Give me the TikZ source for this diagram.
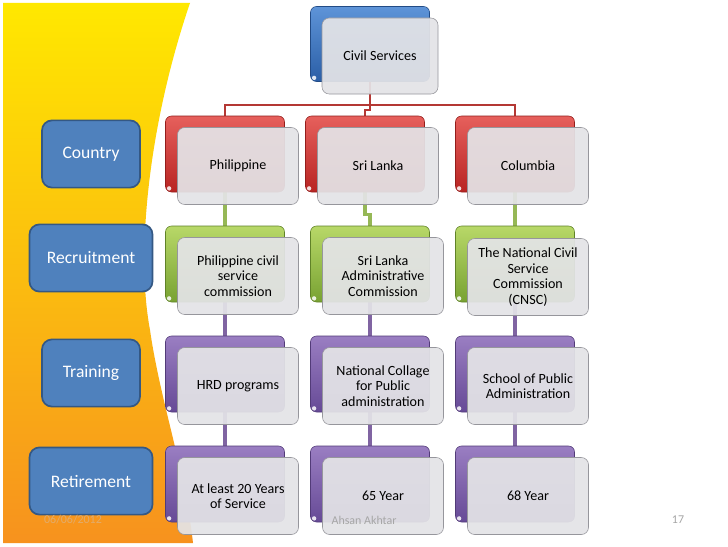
\documentclass[tikz,border=0pt]{standalone}
\usepackage{fontspec}
\setmainfont{Carlito}
\usetikzlibrary{calc}
\pgfdeclarelayer{page}
\pgfdeclarelayer{background}
\pgfsetlayers{page,background,main}

\definecolor{bandtop}{RGB}{255,232,0}
\definecolor{bandmid}{RGB}{254,196,18}
\definecolor{bandbot}{RGB}{247,146,30}
\definecolor{labelblue}{RGB}{79,129,189}
\definecolor{labeledge}{RGB}{52,88,132}
\definecolor{redtop}{RGB}{230,96,92}
\definecolor{redbot}{RGB}{184,36,34}
\definecolor{redline}{RGB}{180,56,52}
\definecolor{greentop}{RGB}{184,216,104}
\definecolor{greenbot}{RGB}{120,162,50}
\definecolor{greenline}{RGB}{150,184,86}
\definecolor{purptop}{RGB}{154,126,194}
\definecolor{purpbot}{RGB}{102,74,150}
\definecolor{purpline}{RGB}{128,100,162}
\definecolor{bluetop}{RGB}{94,148,216}
\definecolor{bluebot}{RGB}{42,94,166}
\definecolor{cardfill}{RGB}{228,228,231}
\definecolor{cardedge}{RGB}{150,150,156}
\definecolor{footgray}{RGB}{166,166,166}
\definecolor{datecol}{RGB}{226,172,108}

\begin{document}
\begin{tikzpicture}[x=0.25mm, y=-0.25mm,
    lbl/.style={draw=labeledge, line width=1.2pt, fill=labelblue, rounded corners=2.5mm,
        text=white, font=\fontsize{12.5}{14}\selectfont, minimum height=16.8mm},
    back/.style={draw=#1bot!80!black, top color=#1top, bottom color=#1bot,
        rounded corners=1.5mm, minimum width=29.75mm, minimum height=19mm,
        path picture={\fill[white, opacity=0.85]
            ($(path picture bounding box.south west)+(0.9mm,0.9mm)$) circle (0.55mm);}},
    card/.style={draw=cardedge, fill=cardfill, fill opacity=0.93, text opacity=1,
        rounded corners=1.8mm, minimum width=30.25mm, minimum height=19.25mm,
        align=center, font=\fontsize{10}{11}\selectfont},
    link/.style={line width=2.4pt},
    foot/.style={font=\fontsize{8.5}{10}\selectfont}]

    % Page and the yellow band on the left
    \useasboundingbox (0,0) rectangle (728,546);
    \begin{pgfonlayer}{page}
        \fill[white] (0,0) rectangle (728,546);
        \shade[top color=bandtop, middle color=bandmid, bottom color=bandbot]
            (3,3) -- (190,3) .. controls (150,120) and (135,250) .. (150,330)
            .. controls (160,400) and (185,470) .. (193,543) -- (3,543) -- cycle;
    \end{pgfonlayer}

    % Row labels
    \node[lbl, minimum width=24.5mm] (country) at (91,154) {Country};
    \node[lbl, minimum width=30.75mm] (recruit) at (91,258) {Recruitment};
    \node[lbl, minimum width=24.5mm] (training) at (91,373) {Training};
    \node[lbl, minimum width=30.75mm] (retire) at (91,481) {Retirement};

    % Root
    \node[back=blue, minimum width=29.75mm, minimum height=18.75mm] (csb) at (370,44) {};
    \node[card, minimum width=29mm, minimum height=19mm] (cs) at (380,56) {Civil Services};

    % Country
    \node[back=red] (ph1b) at (225,154) {};
    \node[card] (ph1) at (238,166) {Philippine};
    \node[back=red] (sl1b) at (365,154) {};
    \node[card] (sl1) at (378,166) {Sri Lanka};
    \node[back=red] (co1b) at (515,154) {};
    \node[card] (co1) at (528,166) {Columbia};

    % Recruitment
    \node[back=green] (ph2b) at (225,264) {};
    \node[card] (ph2) at (238,276) {Philippine civil\\service\\commission};
    \node[back=green] (sl2b) at (370,264) {};
    \node[card] (sl2) at (383,276) {Sri Lanka\\Administrative\\Commission};
    \node[back=green] (co2b) at (515,264) {};
    \node[card] (co2) at (528,277) {The National Civil\\Service\\Commission\\(CNSC)};

    % Training
    \node[back=purp] (ph3b) at (225,374) {};
    \node[card] (ph3) at (238,386) {HRD programs};
    \node[back=purp] (sl3b) at (370,374) {};
    \node[card] (sl3) at (383,386) {National Collage\\for Public\\administration};
    \node[back=purp] (co3b) at (515,374) {};
    \node[card] (co3) at (528,386) {School of Public\\Administration};

    % Retirement
    \node[back=purp] (ph4b) at (225,484) {};
    \node[card] (ph4) at (238,496) {At least 20 Years\\of Service};
    \node[back=purp] (sl4b) at (370,484) {};
    \node[card] (sl4) at (383,496) {65 Year};
    \node[back=purp] (co4b) at (515,484) {};
    \node[card] (co4) at (528,496) {68 Year};

    % Connectors, behind the boxes
    \begin{pgfonlayer}{background}
        \coordinate (bus) at (370,105);
        \draw[link, redline, line width=1.9pt] (csb.south) -- (bus);
        \draw[link, redline, line width=1.9pt] (ph1b.north) |- (bus) -| (co1b.north);
        \draw[link, redline, line width=1.9pt] (bus) -- ++(0,5) -| (sl1b.north);
        \foreach \c in {ph,sl,co} {
            \draw[link, greenline] (\c1b.south) -- ++(0,22) -| (\c2b.north);
            \draw[link, purpline] (\c2b.south) -- (\c3b.north);
            \draw[link, purpline] (\c3b.south) -- (\c4b.north);
        }
    \end{pgfonlayer}

    % Footer
    \node[foot, text=datecol] (date) at (73,520) {06/06/2012};
    \node[foot, text=footgray] (author) at (364,520) {Ahsan Akhtar};
    \node[foot, text=footgray] (page) at (678,520) {17};
\end{tikzpicture}
\end{document}
